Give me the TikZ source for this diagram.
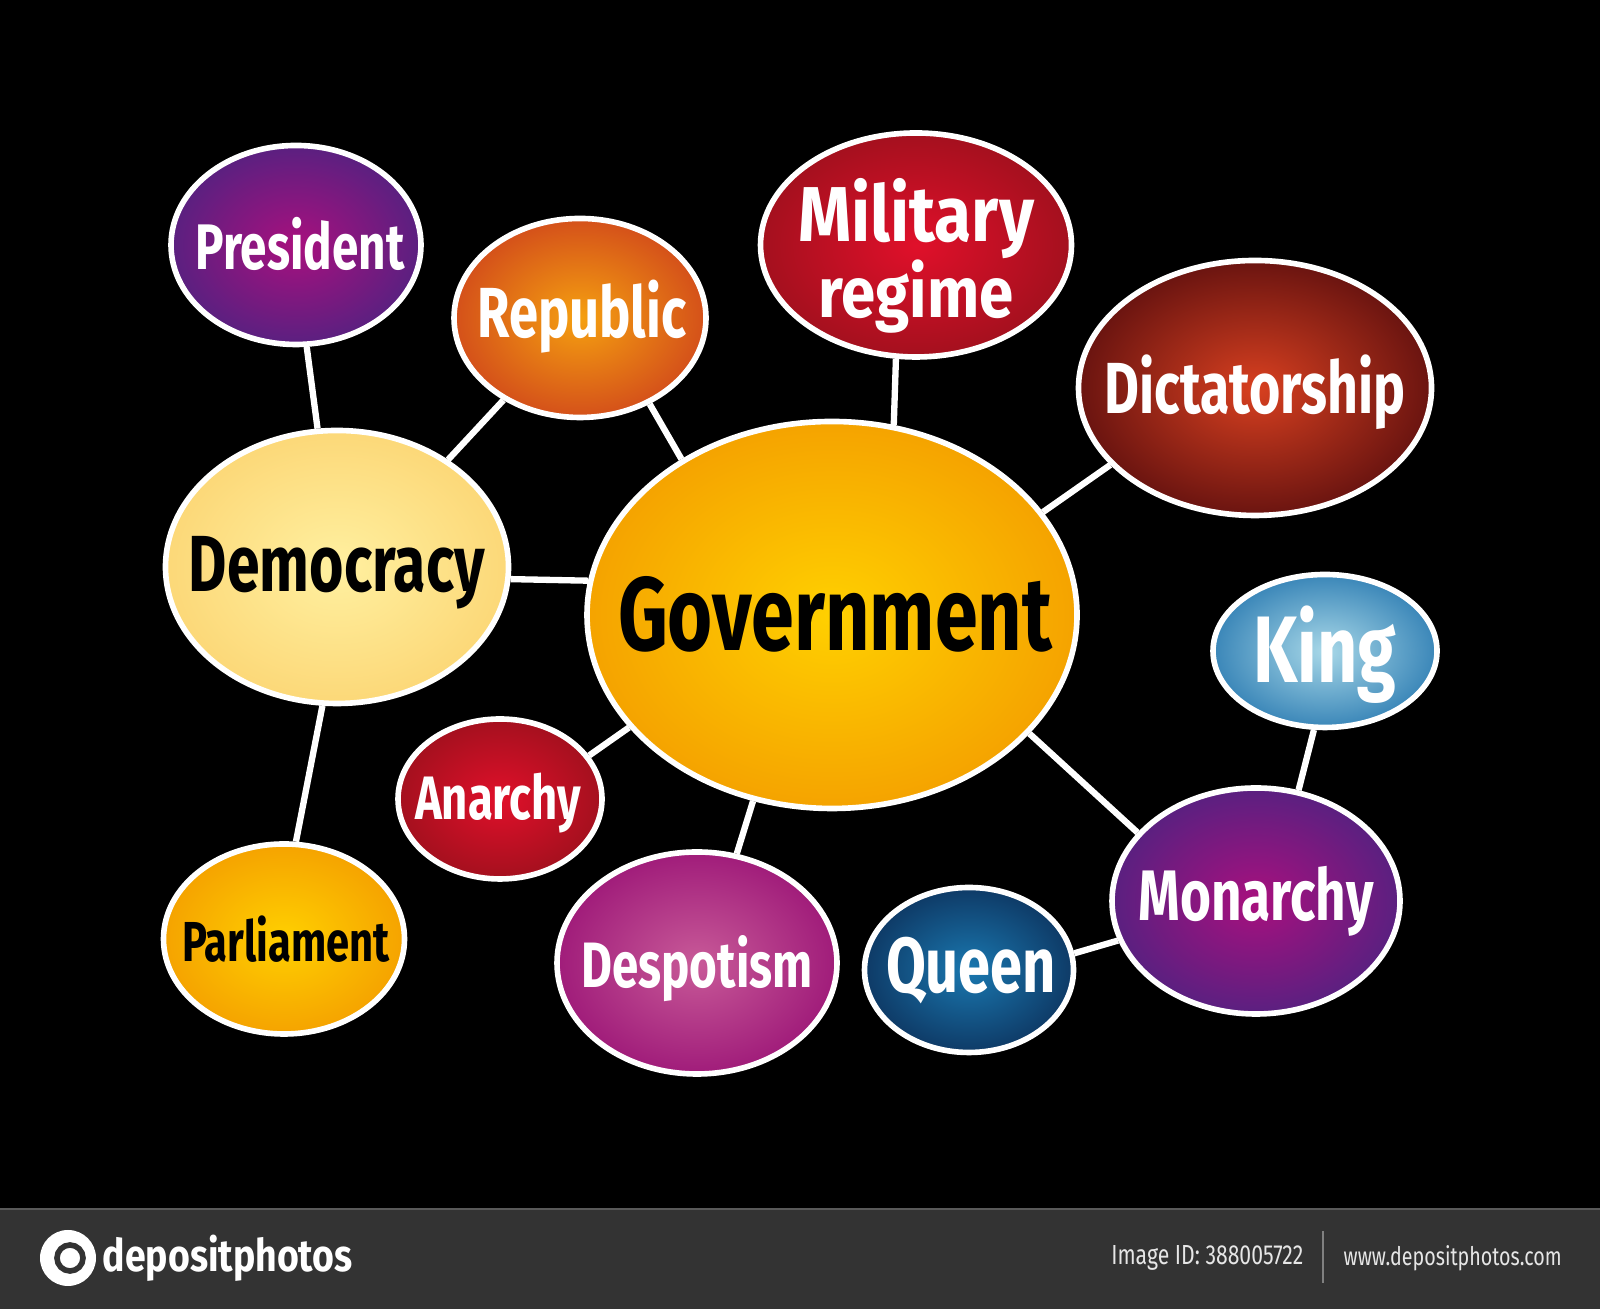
\documentclass[tikz,border=0pt]{standalone}
\usepackage{fontspec}
\setmainfont{Fira Sans}
\usepackage{graphicx}
\usetikzlibrary{shapes.geometric}

\definecolor{barbg}{HTML}{333333}
\definecolor{bartext}{HTML}{E6E6E6}
\definecolor{purplein}{HTML}{A8107E}
\definecolor{purpleout}{HTML}{5A2080}
\definecolor{orangein}{HTML}{F5A010}
\definecolor{orangeout}{HTML}{D4501A}
\definecolor{redin}{HTML}{E0102A}
\definecolor{redout}{HTML}{A4101E}
\definecolor{brownin}{HTML}{D84020}
\definecolor{brownout}{HTML}{6A1410}
\definecolor{palein}{HTML}{FFF0A0}
\definecolor{paleout}{HTML}{FCD878}
\definecolor{goldin}{HTML}{FFD000}
\definecolor{goldout}{HTML}{F5A300}
\definecolor{skyin}{HTML}{A8D8E8}
\definecolor{skyout}{HTML}{3A86B8}
\definecolor{pinkin}{HTML}{C85A98}
\definecolor{pinkout}{HTML}{A01C7A}
\definecolor{bluein}{HTML}{1A78B0}
\definecolor{blueout}{HTML}{0E3A66}

% label text, stretched to a given width
\newcommand{\bubbletext}[2]{\resizebox{#1}{!}{\scalebox{1}[1.35]{\bfseries #2}}}

\begin{document}
\begin{tikzpicture}[
    bubble/.style={ellipse,draw=white,line width=1.6pt,inner sep=0pt},
    word/.style={inner sep=0pt,text=white},
    link/.style={draw=white,line width=1.8pt}
  ]
    % Background
    \fill [black] (0,0) rectangle (16,13.09);
    \useasboundingbox (0,0) rectangle (16,13.09);

    % Bubbles
    \node (gov) [bubble,minimum width=4.90cm,minimum height=3.87cm,inner color=goldin,outer color=goldout] at (8.32,6.94) {};
    \node (pres) [bubble,minimum width=2.50cm,minimum height=1.99cm,inner color=purplein,outer color=purpleout] at (2.96,10.64) {};
    \node (rep) [bubble,minimum width=2.52cm,minimum height=1.99cm,inner color=orangein,outer color=orangeout] at (5.80,9.91) {};
    \node (mil) [bubble,minimum width=3.11cm,minimum height=2.24cm,inner color=redin,outer color=redout] at (9.16,10.64) {};
    \node (dict) [bubble,minimum width=3.53cm,minimum height=2.55cm,inner color=brownin,outer color=brownout] at (12.55,9.21) {};
    \node (dem) [bubble,minimum width=3.43cm,minimum height=2.73cm,inner color=palein,outer color=paleout] at (3.37,7.42) {};
    \node (king) [bubble,minimum width=2.24cm,minimum height=1.53cm,inner color=skyin,outer color=skyout] at (13.25,6.58) {};
    \node (anar) [bubble,minimum width=2.04cm,minimum height=1.60cm,inner color=redin,outer color=redout] at (5.00,5.10) {};
    \node (mon) [bubble,minimum width=2.88cm,minimum height=2.26cm,inner color=purplein,outer color=purpleout] at (12.56,4.08) {};
    \node (parl) [bubble,minimum width=2.41cm,minimum height=1.90cm,inner color=goldin,outer color=goldout] at (2.84,3.70) {};
    \node (desp) [bubble,minimum width=2.80cm,minimum height=2.22cm,inner color=pinkin,outer color=pinkout] at (6.97,3.46) {};
    \node (queen) [bubble,minimum width=2.09cm,minimum height=1.65cm,inner color=bluein,outer color=blueout] at (9.69,3.39) {};

    % Words
    \node (govword) [word,text=black] at (8.35,6.95) {\bubbletext{4.34cm}{Government}};
    \node (presword) [word] at (3.00,10.65) {\bubbletext{2.09cm}{President}};
    \node (repword) [word] at (5.82,9.92) {\bubbletext{2.09cm}{Republic}};
    \node (milword) [word] at (9.16,10.90) {\resizebox{2.36cm}{!}{\scalebox{1}[1.15]{\bfseries Military}}};
    \node (regword) [word] at (9.16,10.12) {\resizebox{1.95cm}{!}{\scalebox{1}[1.15]{\bfseries regime}}};
    \node (dictword) [word] at (12.55,9.17) {\bubbletext{3.01cm}{Dictatorship}};
    \node (demword) [word,text=black] at (3.37,7.36) {\bubbletext{2.96cm}{Democracy}};
    \node (kingword) [word] at (13.25,6.54) {\bubbletext{1.43cm}{King}};
    \node (anarword) [word] at (4.98,5.06) {\bubbletext{1.66cm}{Anarchy}};
    \node (monword) [word] at (12.56,4.08) {\bubbletext{2.35cm}{Monarchy}};
    \node (parlword) [word,text=black] at (2.86,3.70) {\bubbletext{2.08cm}{Parliament}};
    \node (despword) [word] at (6.97,3.40) {\bubbletext{2.31cm}{Despotism}};
    \node (queenword) [word] at (9.71,3.38) {\bubbletext{1.70cm}{Queen}};

    % Links
    \foreach \from/\to in {pres.-84/dem.98, rep.-133/dem.44, rep.-51/gov.134,
      mil.-100/gov.72, dict.-152/gov.26, dem.-4/gov.172, dem.-96/parl.83,
      anar.26/gov.-151, desp.70/gov.-113, gov.-31/mon.150, king.-98/mon.69,
      queen.9/mon.-164}
    {
      \draw [link] (\from) -- (\to);
    };

    % Bottom bar
    \fill [barbg] (0,0) rectangle (16,1.00);
    \draw [gray!70!black] (0,1.00) -- (16,1.00);
    \node (logoicon) [circle,fill=white,minimum size=0.56cm,inner sep=0pt] at (0.68,0.51) {};
    \node (logolens) [circle,draw=barbg,line width=1.6pt,minimum size=0.26cm,inner sep=0pt] at (0.70,0.51) {};
    \node (logotext) [anchor=west,text=white,inner sep=0pt] at (1.02,0.51) {\resizebox{2.50cm}{!}{\scalebox{1}[1.2]{\bfseries depositphotos}}};
    \node (imageid) [anchor=east,text=bartext,inner sep=0pt] at (13.04,0.51) {\resizebox{1.92cm}{!}{\scalebox{1}[1.3]{Image ID: 388005722}}};
    \node (website) [anchor=west,text=bartext,inner sep=0pt] at (13.43,0.51) {\resizebox{2.18cm}{!}{\scalebox{1}[1.3]{www.depositphotos.com}}};
    \draw [gray] (imageid.east) ++(0.19,-0.25) -- ++(0,0.52);
\end{tikzpicture}
\end{document}
